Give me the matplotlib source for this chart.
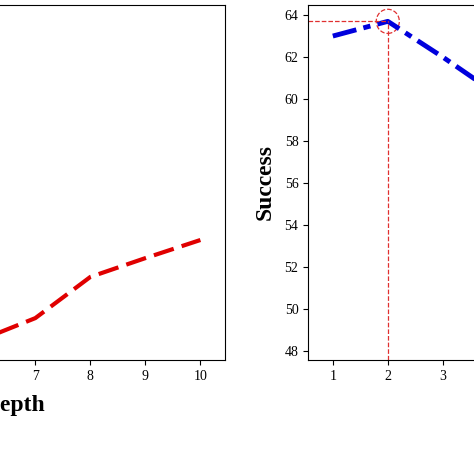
import matplotlib
matplotlib.use("Agg")
import matplotlib.pyplot as plt
from matplotlib.patches import Ellipse

plt.rcParams['font.family'] = ['Liberation Serif', 'DejaVu Serif']

depth = [6, 7, 8, 9, 10]
depth_vals = [5.6, 11.8, 23.4, 28.7, 33.8]
depth_ticks = [7, 8, 9, 10]
k = [1, 2, 3, 4]
success = [63.0, 63.7, 62.0, 60.2]
best_k, best_s = 2, 63.7

fig = plt.figure(figsize=(4.74, 4.74), dpi=100)
ax1 = fig.add_axes([-0.088, 0.2405, 0.563, 0.749])
ax1.plot(depth, depth_vals, color='#e00000', lw=3, ls=(0, (5, 2)))
ax1.set_xlim(5.6, 10.45)
ax1.set_ylim(0, 100)
ax1.set_xticks(depth_ticks)
ax1.set_yticks([])
ax1.tick_params(labelsize=10)
fig.text(45/474, 1-405/474, "Depth", ha='right', va='center', fontsize=17, fontweight='bold')

ax2 = fig.add_axes([0.65, 0.2405, 0.458, 0.749])
ax2.plot(k, success, color='#0000dd', lw=3.5, ls=(0, (5, 1.5, 1.5, 1.5)))
ax2.set_xlim(0.55, 4.5)
ax2.set_ylim(47.57, 64.48)
ax2.set_yticks(range(48, 65, 2))
ax2.set_xticks([1, 2, 3, 4])
ax2.tick_params(labelsize=10)
ax2.plot([0.55, best_k], [best_s, best_s], color='#e03030', lw=0.9, ls='--')
ax2.plot([best_k, best_k], [47.57, best_s], color='#e03030', lw=0.9, ls='--')
ax2.add_patch(Ellipse((best_k, best_s), 0.42, 1.15, fill=False, ec='#e03030', lw=0.9, ls='--'))
ax2.set_ylabel("Success", fontsize=17, fontweight='bold', labelpad=6)

fig.savefig("out.png", dpi=100)
